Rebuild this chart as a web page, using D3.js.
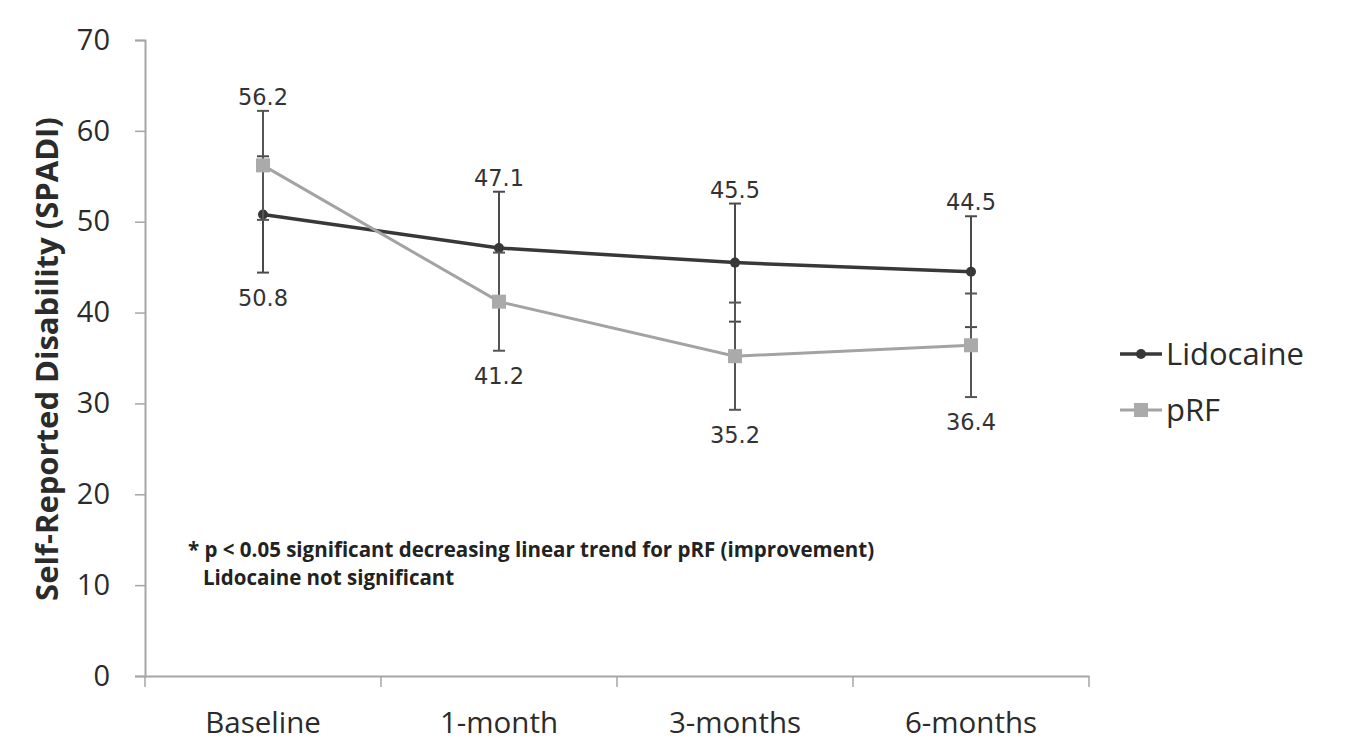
<!DOCTYPE html>
<html>
<head>
<meta charset="utf-8">
<script src="https://cdn.jsdelivr.net/npm/d3@7"></script>
<style>
html,body{margin:0;padding:0;background:#fff;}
svg{display:block;}
</style>
</head>
<body>
<svg id="chart" width="1352" height="748"></svg>
<script>
const categories = ["Baseline", "1-month", "3-months", "6-months"];
const lidocaine = [50.8, 47.1, 45.5, 44.5];
const lidocaineErr = [6.4, 6.2, 6.5, 6.1];
const prf = [56.2, 41.2, 35.2, 36.4];
const prfErr = [6.0, 5.4, 5.9, 5.7];
const lidocaineLabelSide = ["below", "above", "above", "above"];
const prfLabelSide = ["above", "below", "below", "below"];
const yTicks = [0, 10, 20, 30, 40, 50, 60, 70];
const yTitle = "Self-Reported Disability (SPADI)";
const noteLines = ["* p < 0.05 significant decreasing linear trend for pRF (improvement)",
                   "Lidocaine not significant"];

(function () {
const svg = d3.select("#chart");
const pLeft = 145, pRight = 1089, pTop = 40, pBottom = 676;

const x = d3.scaleBand().domain(categories).range([pLeft, pRight]);
const y = d3.scaleLinear().domain([0, 70]).range([pBottom, pTop]);
const cx = c => x(c) + x.bandwidth() / 2;

const axisColor = "#a6a6a6";
const textColor = "#2b2b2b";

// Y axis
const yAxis = svg.append("g").attr("transform", `translate(${pLeft},0)`)
  .call(d3.axisLeft(y).tickValues(yTicks).tickSize(10).tickPadding(25).tickFormat(d3.format("d")));
yAxis.select(".domain").attr("stroke", axisColor).attr("stroke-width", 2);
yAxis.selectAll(".tick line").attr("stroke", axisColor).attr("stroke-width", 1.5);
yAxis.selectAll(".tick text").attr("fill", textColor).style("font-family", "Open Sans")
  .style("font-size", "29px");

// X axis
const xAxis = svg.append("g").attr("transform", `translate(0,${pBottom})`)
  .call(d3.axisBottom(x).tickSize(0).tickPadding(36));
xAxis.select(".domain").attr("stroke", axisColor).attr("stroke-width", 2);
xAxis.selectAll(".tick text").attr("fill", textColor).style("font-family", "Open Sans")
  .style("font-size", "29.5px");
const bounds = categories.map(c => x(c)).concat([pRight]);
svg.append("g").selectAll("line").data(bounds).join("line")
  .attr("x1", d => d).attr("x2", d => d)
  .attr("y1", pBottom).attr("y2", pBottom + 11)
  .attr("stroke", axisColor).attr("stroke-width", 1.5);

// Y title
svg.append("text")
  .attr("transform", `translate(58,359) rotate(-90)`)
  .attr("text-anchor", "middle")
  .style("font-family", "Open Sans").style("font-weight", "bold").style("font-size", "31px")
  .attr("fill", textColor).text(yTitle);

function drawSeries(vals, errs, color, lineW, markerFn, errColor) {
  const g = svg.append("g");
  vals.forEach((v, i) => {
    const xx = cx(categories[i]);
    g.append("line").attr("x1", xx).attr("x2", xx)
      .attr("y1", y(v - errs[i])).attr("y2", y(v + errs[i]))
      .attr("stroke", errColor).attr("stroke-width", 2);
    [v - errs[i], v + errs[i]].forEach(e => {
      g.append("line").attr("x1", xx - 6).attr("x2", xx + 6)
        .attr("y1", y(e)).attr("y2", y(e))
        .attr("stroke", errColor).attr("stroke-width", 2);
    });
  });
  const line = d3.line().x((d, i) => cx(categories[i])).y(d => y(d));
  g.append("path").datum(vals).attr("d", line).attr("fill", "none")
    .attr("stroke", color).attr("stroke-width", lineW);
  vals.forEach((v, i) => markerFn(g, cx(categories[i]), y(v)));
}

drawSeries(lidocaine, lidocaineErr, "#383838", 3.5,
  (g, px, py) => g.append("circle").attr("cx", px).attr("cy", py).attr("r", 5).attr("fill", "#383838"),
  "#4a4a4a");
drawSeries(prf, prfErr, "#a3a3a3", 3,
  (g, px, py) => g.append("rect").attr("x", px - 7).attr("y", py - 7).attr("width", 14).attr("height", 14)
    .attr("fill", "#aaaaaa"),
  "#555555");

function labels(vals, errs, sides) {
  svg.append("g").selectAll("text").data(vals).join("text")
    .attr("x", (d, i) => cx(categories[i]))
    .attr("y", (d, i) => sides[i] === "above" ? y(d + errs[i]) - 6 : y(d - errs[i]) + 33)
    .attr("text-anchor", "middle")
    .style("font-family", "DejaVu Sans").style("font-size", "22.5px")
    .attr("fill", "#333").text(d => d.toFixed(1));
}
labels(lidocaine, lidocaineErr, lidocaineLabelSide);
labels(prf, prfErr, prfLabelSide);

svg.append("text").attr("x", 188).attr("y", 557)
  .style("font-family", "Open Sans").style("font-weight", "bold").style("font-size", "20.5px")
  .attr("fill", "#222").text(noteLines[0]);
svg.append("text").attr("x", 203).attr("y", 585)
  .style("font-family", "Open Sans").style("font-weight", "bold").style("font-size", "20.5px")
  .attr("fill", "#222").text(noteLines[1]);

const legend = [
  {name: "Lidocaine", color: "#383838", type: "circle", w: 3.5},
  {name: "pRF", color: "#a3a3a3", type: "rect", w: 3}
];
const lg = svg.append("g");
legend.forEach((d, i) => {
  const ly = 354 + i * 56;
  lg.append("line").attr("x1", 1120).attr("x2", 1162).attr("y1", ly).attr("y2", ly)
    .attr("stroke", d.color).attr("stroke-width", d.w);
  if (d.type === "circle") lg.append("circle").attr("cx", 1141).attr("cy", ly).attr("r", 5).attr("fill", d.color);
  else lg.append("rect").attr("x", 1134).attr("y", ly - 7).attr("width", 14).attr("height", 14).attr("fill", "#aaaaaa");
  lg.append("text").attr("x", 1166).attr("y", ly + 11)
    .style("font-family", "Open Sans").style("font-size", "31px")
    .attr("fill", textColor).text(d.name);
});
})();
</script>
</body>
</html>
